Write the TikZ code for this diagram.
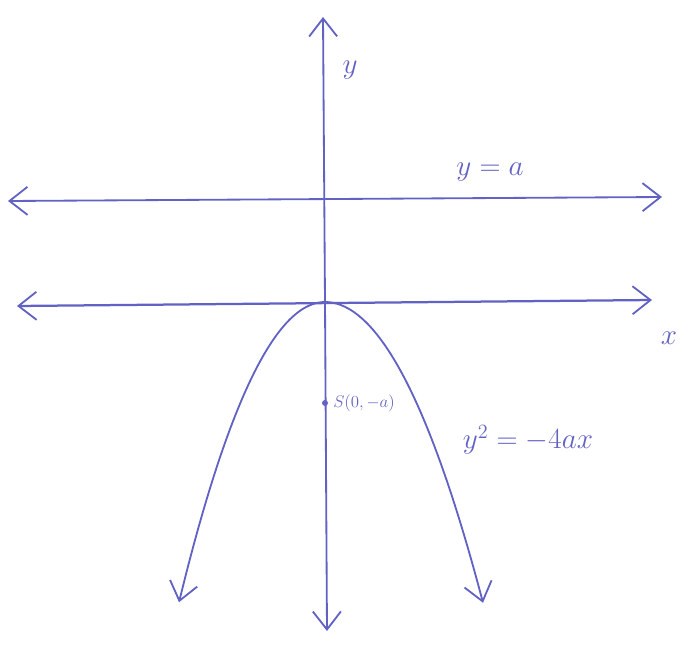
\documentclass[tikz,border=0pt]{standalone}
\usetikzlibrary{arrows.meta}
\definecolor{penblue}{RGB}{98,98,196}
\begin{document}
\begin{tikzpicture}[x=0.025cm,y=-0.025cm]

    \tikzset{pen/.style={draw=penblue,line width=1.3pt,line cap=round},
             barb/.style={-{Straight Barb[length=4.5mm,width=7mm,line width=1.3pt]}},
             twobarb/.style={{Straight Barb[length=4.5mm,width=7mm,line width=1.3pt]}-{Straight Barb[length=4.5mm,width=7mm,line width=1.3pt]}},
             handlabel/.style={text=penblue,inner sep=0pt}}
    \useasboundingbox (0,0) rectangle (682,671);

    \coordinate (ytop) at (323,17);
    \coordinate (ybot) at (327,631);
    \coordinate (aleft) at (8,201);
    \coordinate (aright) at (662,197);
    \coordinate (xleft) at (17,306);
    \coordinate (xright) at (652,300);
    \coordinate (vertex) at (325,302);

    \begin{scope}[every path/.style={pen}]
        \draw[barb] (vertex) -- (ytop);
        \draw[barb] (vertex) -- (ybot);
        \draw[twobarb] (aleft) -- (aright);
        \draw[line width=1.6pt,twobarb] (xleft) -- (xright);
    \end{scope}

    % parabola
    \draw[pen,twobarb,domain=-146:158,samples=80,smooth]
        plot ({325+\x},{302+(\x/(\x<0?71:83))*\x});

    \fill[penblue] (325,403) circle (3);

    \node[handlabel] (ylab) at (350,70) {\fontsize{22}{26}\selectfont$y$};
    \node[handlabel] (xlab) at (669,338) {\fontsize{20}{24}\selectfont$x$};
    \node[handlabel] (dirlab) at (490,172) {\fontsize{22}{26}\selectfont$y=a$};
    \node[handlabel,anchor=west] (slab) at (333,403) {\fontsize{13}{15}\selectfont$S(0,-a)$};
    \node[handlabel] (parlab) at (528,440) {\fontsize{21}{25}\selectfont$y^2=-4ax$};

\end{tikzpicture}
\end{document}
